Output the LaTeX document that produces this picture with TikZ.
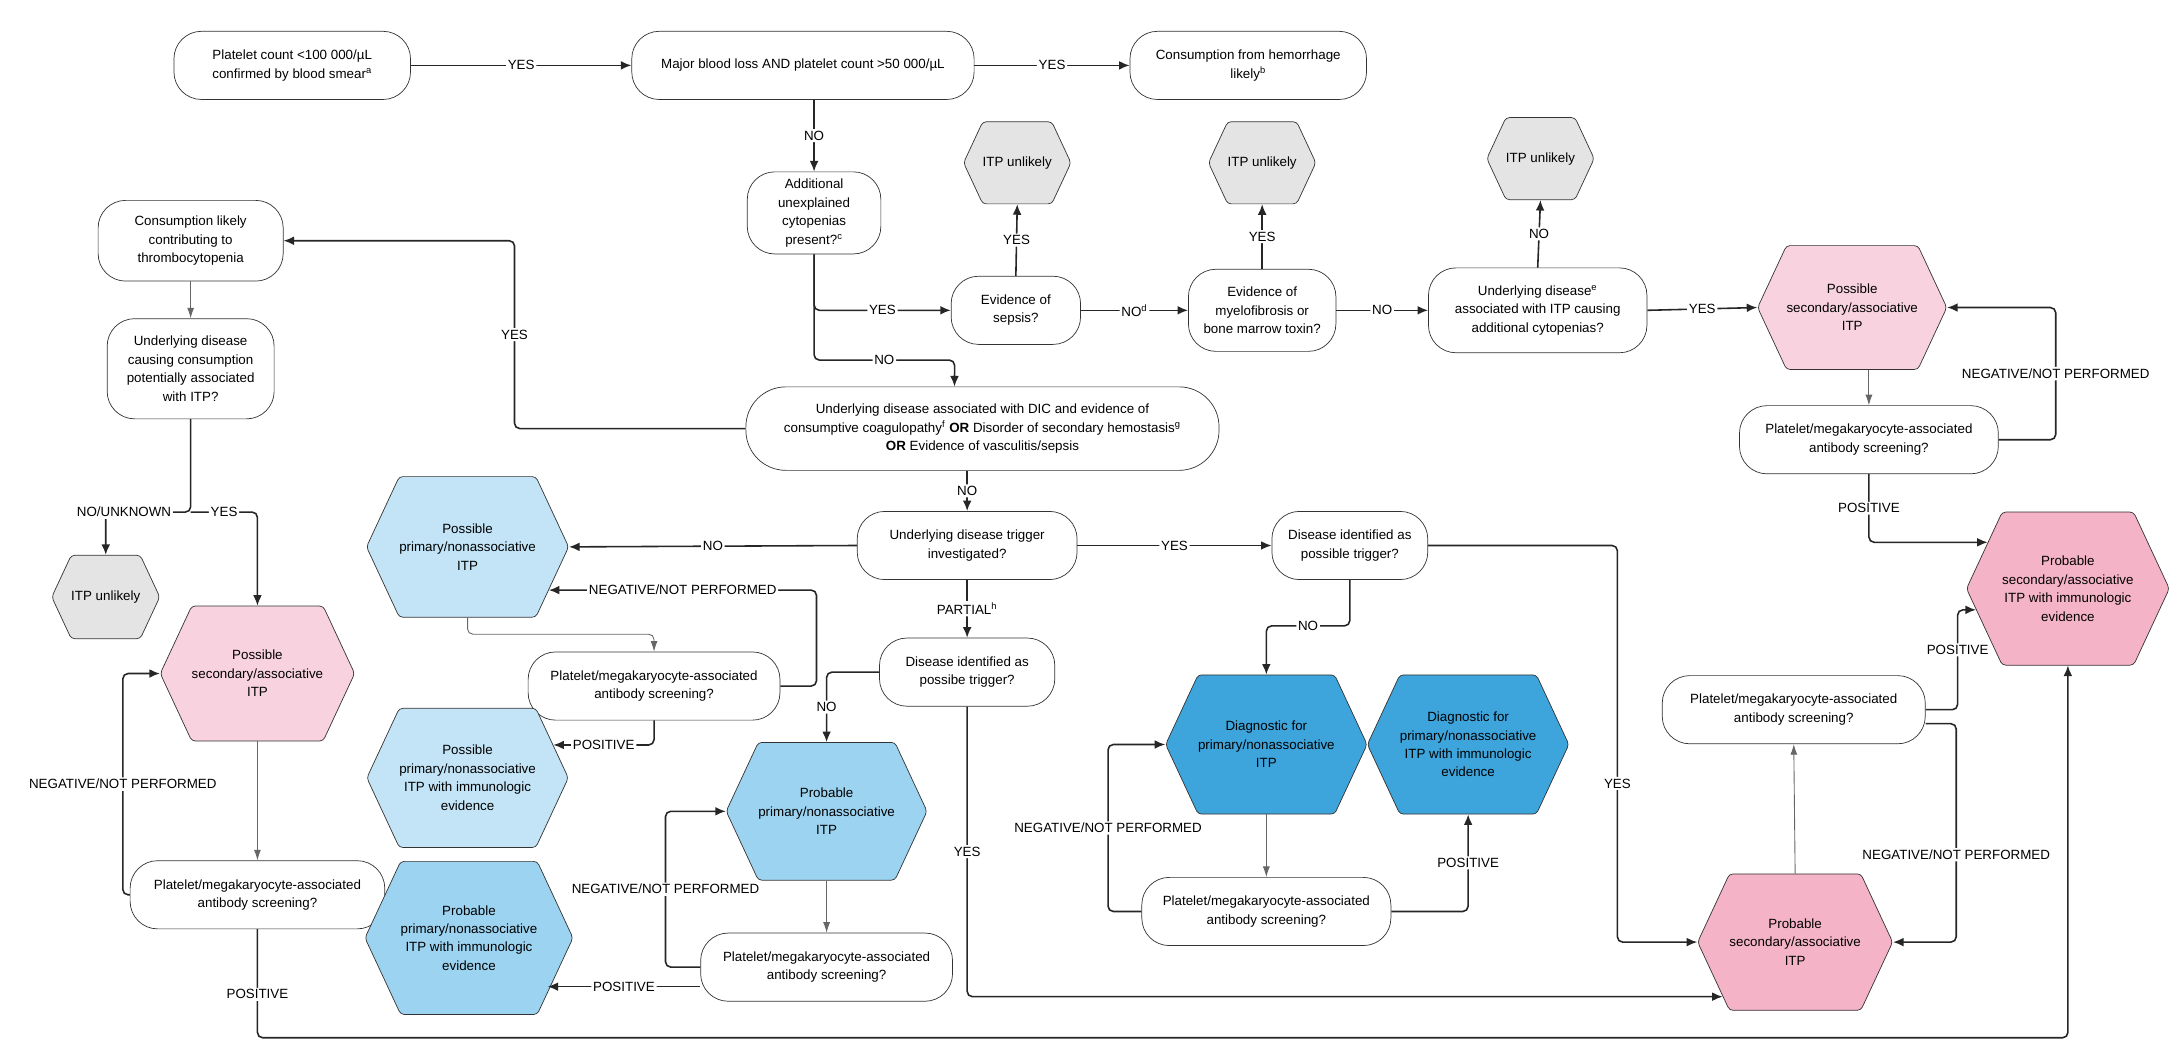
\documentclass[tikz,border=0pt]{standalone}
\usepackage{fontspec}
\setmainfont{Liberation Sans}
\usetikzlibrary{shapes.symbols,arrows.meta}
\newcommand\uu{0.02783cm}
\definecolor{unlk}{HTML}{E4E4E4}
\definecolor{possS}{HTML}{F8D3DF}
\definecolor{probS}{HTML}{F5B3C8}
\definecolor{possP}{HTML}{C2E4F6}
\definecolor{probP}{HTML}{9CD3F0}
\definecolor{diagP}{HTML}{3DA5DC}
\tikzset{
  sz/.style 2 args={minimum width=#1*\uu, minimum height=#2*\uu},
  q/.style={draw=black!80, fill=white, rounded corners=0.55cm, align=center, inner sep=0pt},
  hx/.style={draw=black!80, shape=signal, signal to=west and east, signal pointer angle=130,
             align=center, inner sep=0pt, rounded corners=2pt},
  lbl/.style={fill=white, inner sep=1pt},
  arr/.style={draw=black!85, line width=0.9pt, rounded corners=3pt, -{Latex[length=6pt,width=5pt]}},
  thn/.style={draw=black!60, line width=0.5pt, rounded corners=3pt, -{Latex[length=6pt,width=4pt]}}
}
\begin{document}
\begin{tikzpicture}[x=\uu, y=-\uu, font=\fontsize{7.6}{10.5}\selectfont]
        \useasboundingbox (0,0) rectangle (1568,760);

        \node[q, sz={170}{49}] (plt) at (210,47) {Platelet count <100 000/µL\\confirmed by blood smear\textsuperscript{a}};
        \node[q, sz={246}{49}] (major) at (577,47) {Major blood loss AND platelet count >50 000/µL};
        \node[q, sz={170}{49}] (hemo) at (897,47) {Consumption from hemorrhage\\likely\textsuperscript{b}};
        \node[q, sz={96}{59}] (addl) at (585,153) {Additional\\unexplained\\cytopenias\\present?\textsuperscript{c}};
        \node[q, sz={133}{58}] (cons) at (137,173) {Consumption likely\\contributing to\\thrombocytopenia};
        \node[q, sz={120}{72}] (undC) at (137,265) {Underlying disease\\causing consumption\\potentially associated\\with ITP?};
        \node[q, sz={340}{60}, rounded corners=0.8cm] (dic) at (706,308) {Underlying disease associated with DIC and evidence of\\consumptive coagulopathy\textsuperscript{f} \textbf{OR} Disorder of secondary hemostasis\textsuperscript{g}\\\textbf{OR} Evidence of vasculitis/sepsis};
        \node[q, sz={93}{49}] (sepsis) at (730,223) {Evidence of\\sepsis?};
        \node[q, sz={106}{59}] (myelo) at (907,223) {Evidence of\\myelofibrosis or\\bone marrow toxin?};
        \node[q, sz={157}{61}] (undE) at (1105,223) {Underlying disease\textsuperscript{e}\\associated with ITP causing\\additional cytopenias?};
        \node[hx, fill=unlk, sz={70}{59}] (unl1) at (731,117) {ITP unlikely};
        \node[hx, fill=unlk, sz={70}{59}] (unl2) at (907,117) {ITP unlikely};
        \node[hx, fill=unlk, sz={70}{59}] (unl3) at (1107,114) {ITP unlikely};
        \node[hx, fill=unlk, sz={71}{60}] (unl4) at (76,429) {ITP unlikely};

        \node[hx, fill=possS, sz={119}{89}] (possS1) at (1331,221) {Possible\\secondary/associative\\ITP};
        \node[q, sz={186}{49}] (scr1) at (1343,316) {Platelet/megakaryocyte-associated\\antibody screening?};
        \node[hx, fill=probS, sz={124}{110}] (probS1) at (1486,423) {Probable\\secondary/associative\\ITP with immunologic\\evidence};
        \node[q, sz={158}{49}] (trig) at (695,392) {Underlying disease trigger\\investigated?};
        \node[hx, fill=possP, sz={119}{101}] (possP1) at (336,393) {Possible\\primary/nonassociative\\ITP};
        \node[q, sz={181}{49}] (scr2) at (470,493) {Platelet/megakaryocyte-associated\\antibody screening?};
        \node[hx, fill=possP, sz={119}{100}] (possP2) at (336,559) {Possible\\primary/nonassociative\\ITP with immunologic\\evidence};
        \node[hx, fill=possS, sz={119}{97}] (possS2) at (185,484) {Possible\\secondary/associative\\ITP};
        \node[q, sz={183}{49}] (scr3) at (185,643) {Platelet/megakaryocyte-associated\\antibody screening?};
        \node[hx, fill=probP, sz={132}{110}] (probP2) at (337,674) {Probable\\primary/nonassociative\\ITP with immunologic\\evidence};
        \node[q, sz={126}{49}] (dis2) at (695,483) {Disease identified as\\possibe trigger?};
        \node[hx, fill=probP, sz={121}{99}] (probP1) at (594,583) {Probable\\primary/nonassociative\\ITP};
        \node[q, sz={181}{49}] (scr4) at (594,695) {Platelet/megakaryocyte-associated\\antibody screening?};
        \node[q, sz={112}{49}] (dis1) at (970,392) {Disease identified as\\possible trigger?};
        \node[hx, fill=diagP, sz={120}{100}] (diag1) at (910,535) {Diagnostic for\\primary/nonassociative\\ITP};
        \node[hx, fill=diagP, sz={119}{100}] (diag2) at (1055,535) {Diagnostic for\\primary/nonassociative\\ITP with immunologic\\evidence};
        \node[q, sz={179}{49}] (scr5) at (910,655) {Platelet/megakaryocyte-associated\\antibody screening?};
        \node[q, sz={189}{49}] (scr6) at (1289,510) {Platelet/megakaryocyte-associated\\antibody screening?};
        \node[hx, fill=probS, sz={120}{98}] (probS2) at (1290,677) {Probable\\secondary/associative\\ITP};

        \coordinate (split) at (137,368);
        \coordinate (k) at (76,368);
        \coordinate (s4) at ([yshift=-0.39cm]scr4.west);
        \coordinate (s6) at ([yshift=-0.28cm]scr6.east);

        \draw[arr] (plt.east) -- node[lbl]{YES} (major.west);
        \draw[arr] (major.east) -- node[lbl]{YES} (hemo.west);
        \draw[arr] (major.south -| addl.north) -- node[lbl]{NO} (addl.north);
        \draw[arr] (addl.south) |- node[lbl, pos=0.75]{YES} (sepsis.west);
        \draw[arr] (addl.south) |- node[lbl, pos=0.75]{NO} ++(101,76) -- ([xshift=-0.56cm]dic.north);
        \draw[arr] (dic.west) -- ++(-166,0) |- node[lbl, pos=0.25]{YES} (cons.east);
        \draw[thn] (cons.south) -- (undC.north);
        \draw[arr] (undC.south) -- (split) -- node[lbl, pos=0.2, anchor=east]{NO/UNKNOWN} (k) -- (unl4.north);
        \draw[arr] (split) -| node[lbl, pos=0.25]{YES} (possS2.north);
        \draw[arr] (sepsis.north) -- node[lbl]{YES} (unl1.south);
        \draw[arr] (sepsis.east) -- node[lbl]{NO\textsuperscript{d}} (myelo.west);
        \draw[arr] (myelo.north) -- node[lbl]{YES} (unl2.south);
        \draw[arr] (myelo.east) -- node[lbl]{NO} (undE.west);
        \draw[arr] (undE.north) -- node[lbl]{NO} (unl3.south);
        \draw[arr] (undE.east) -- node[lbl]{YES} (possS1.west);
        \draw[thn] (possS1.south -| scr1.north) -- (scr1.north);
        \draw[arr] (scr1.east) -- ++(41,0) |- node[lbl, pos=0.25]{NEGATIVE/NOT PERFORMED} (possS1.east);
        \draw[arr] (scr1.south) |- node[lbl, pos=0.25]{POSITIVE} (probS1.150);

        \draw[arr] (dic.south -| trig.north) -- node[lbl]{NO} (trig.north);
        \draw[arr] (trig.west) -- node[lbl]{NO} (possP1.east);
        \draw[arr] (trig.east) -- node[lbl]{YES} (dis1.west);
        \draw[arr] (trig.south) -- node[lbl]{PARTIAL\textsuperscript{h}} (dis2.north);
        \draw[thn] (possP1.south) -- ++(0,12) -| (scr2.north);
        \draw[arr] (scr2.east) -- ++(26,0) |- node[lbl, pos=0.75]{NEGATIVE/NOT PERFORMED} (possP1.-28);
        \draw[arr] (scr2.south) |- node[lbl, pos=0.75]{POSITIVE} (possP2.21);
        \draw[arr] (dis2.west) -| node[lbl, pos=0.75]{NO} (probP1.north);
        \draw[arr] (dis2.south) |- node[lbl, pos=0.25]{YES} (probS2.217);
        \draw[thn] (probP1.south) -- (scr4.north);
        \draw[arr] (scr4.west) -- ++(-25,0) |- node[lbl, pos=0.25]{NEGATIVE/NOT PERFORMED} (probP1.west);
        \draw[arr] (s4) -- node[lbl]{POSITIVE} (probP2.-35 |- s4);

        \draw[arr] (dis1.east) -- ++(136,0) |- node[lbl, pos=0.3]{YES} (probS2.west);
        \draw[arr] (dis1.south) -- ++(0,33) -| node[lbl, pos=0.25]{NO} (diag1.north);
        \draw[thn] (diag1.south) -- (scr5.north);
        \draw[arr] (scr5.west) -- ++(-24,0) |- node[lbl, pos=0.25]{NEGATIVE/NOT PERFORMED} (diag1.west);
        \draw[arr] (scr5.east) -| node[lbl, pos=0.75]{POSITIVE} (diag2.south);
        \draw[thn] (probS2.north) -- (scr6.south);
        \draw[arr] (scr6.east) -- ++(23,0) |- node[lbl, pos=0.3]{POSITIVE} (probS1.193);
        \draw[arr] (s6) -- ++(22,0) |- node[lbl, pos=0.3]{NEGATIVE/NOT PERFORMED} (probS2.east);

        \draw[thn] (possS2.south) -- (scr3.north);
        \draw[arr] (scr3.west) -- ++(-5,0) |- node[lbl, pos=0.25]{NEGATIVE/NOT PERFORMED} (possS2.west);
        \draw[arr] (scr3.south) -- node[lbl, pos=0.6]{POSITIVE} ++(0,78) -| (probS1.south);
\end{tikzpicture}
\end{document}
